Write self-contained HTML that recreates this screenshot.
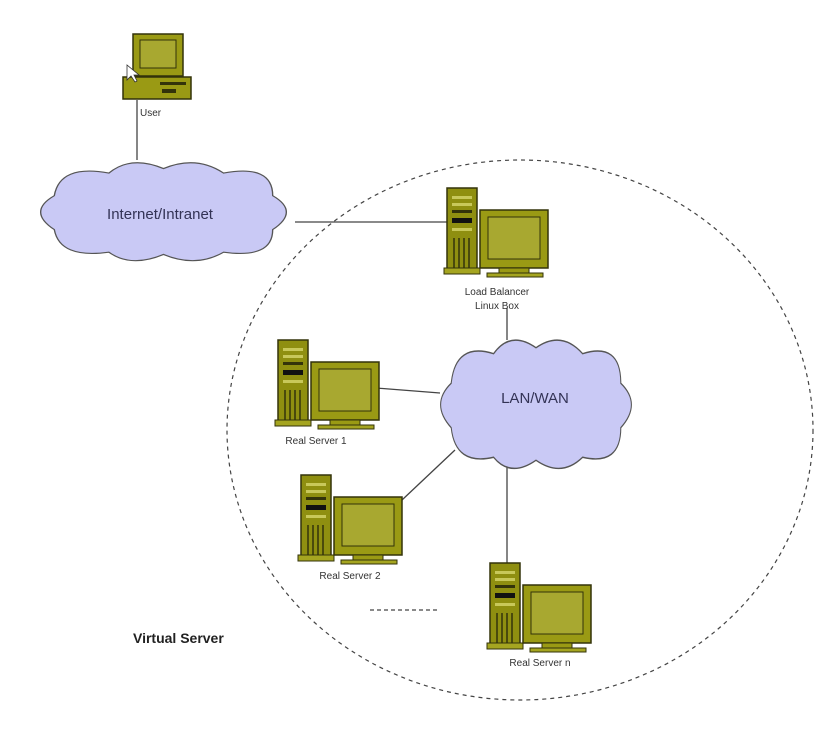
<!DOCTYPE html>
<html><head><style>html,body{margin:0;padding:0;background:#fff;}svg{display:block}</style></head>
<body>
<svg width="834" height="736" viewBox="0 0 834 736" xmlns="http://www.w3.org/2000/svg" font-family="Liberation Sans, sans-serif">
<defs>
<path id="cl" d="M10,18 Q12,4 30,8 Q38,0 50,6 Q62,0 72,8 Q90,4 90,18 Q100,25 90,33 Q90,46 72,43 Q62,50 50,44 Q38,50 30,43 Q12,46 10,33 Q0,25 10,18 Z"/>
<g id="srv">
  <rect x="0" y="0" width="30" height="85" fill="#8f8f10" stroke="#33330a" stroke-width="1.5"/>
  <rect x="5" y="8" width="20" height="3" fill="#c8c85a"/>
  <rect x="5" y="15" width="20" height="3" fill="#c8c85a"/>
  <rect x="5" y="22" width="20" height="3" fill="#33330a"/>
  <rect x="5" y="30" width="20" height="5" fill="#111"/>
  <rect x="5" y="40" width="20" height="3" fill="#c8c85a"/>
  <g stroke="#33330a" stroke-width="1.5"><line x1="7" y1="50" x2="7" y2="80"/><line x1="12" y1="50" x2="12" y2="80"/><line x1="17" y1="50" x2="17" y2="80"/><line x1="22" y1="50" x2="22" y2="80"/></g>
  <rect x="-3" y="80" width="36" height="6" fill="#a5a520" stroke="#33330a"/>
  <rect x="33" y="22" width="68" height="58" fill="#9a9a14" stroke="#33330a" stroke-width="1.5"/>
  <rect x="41" y="29" width="52" height="42" fill="#a8a830" stroke="#33330a"/>
  <rect x="52" y="80" width="30" height="5" fill="#9a9a14" stroke="#33330a"/>
  <rect x="40" y="85" width="56" height="4" fill="#a5a520" stroke="#33330a"/>
</g>
</defs>
<ellipse cx="520" cy="430" rx="293" ry="270" fill="none" stroke="#444" stroke-width="1.2" stroke-dasharray="4,4"/>
<g stroke="#444" stroke-width="1.3">
<line x1="137" y1="100" x2="137" y2="160"/>
<line x1="295" y1="222" x2="450" y2="222"/>
<line x1="507" y1="308" x2="507" y2="340"/>
<line x1="376" y1="388" x2="440" y2="393"/>
<line x1="402" y1="500" x2="455" y2="450"/>
<line x1="507" y1="465" x2="507" y2="565"/>
</g>
<line x1="370" y1="610" x2="438" y2="610" stroke="#444" stroke-width="1.3" stroke-dasharray="4,3"/>
<use href="#cl" transform="translate(27,155) scale(2.73,2.26)" fill="#c9c9f5" stroke="#555" stroke-width="0.5"/>
<use href="#cl" transform="translate(430,330) scale(2.12,2.96)" fill="#c9c9f5" stroke="#555" stroke-width="0.5"/>
<text x="160" y="219" font-size="15" fill="#333355" text-anchor="middle">Internet/Intranet</text>
<text x="535" y="403" font-size="15" fill="#333355" text-anchor="middle">LAN/WAN</text>
<!-- user PC -->
<rect x="133" y="34" width="50" height="42" fill="#9a9a14" stroke="#33330a" stroke-width="1.5"/>
<rect x="140" y="40" width="36" height="28" fill="#a8a830" stroke="#33330a"/>
<rect x="123" y="77" width="68" height="22" fill="#9a9a14" stroke="#33330a" stroke-width="1.5"/>
<rect x="160" y="82" width="26" height="3" fill="#33330a"/>
<rect x="162" y="89" width="14" height="4" fill="#33330a"/>
<path d="M127,65 L127,80 L131,76 L135,82 L137,81 L134,75 L139,75 Z" fill="#fff" stroke="#333" stroke-width="0.8"/>
<text x="140" y="116" font-size="10" fill="#333">User</text>
<use href="#srv" x="447" y="188"/>
<use href="#srv" x="278" y="340"/>
<use href="#srv" x="301" y="475"/>
<use href="#srv" x="490" y="563"/>
<g font-size="10" fill="#333" text-anchor="middle">
<text x="497" y="295">Load Balancer</text>
<text x="497" y="309">Linux Box</text>
<text x="316" y="444">Real Server 1</text>
<text x="350" y="579">Real Server 2</text>
<text x="540" y="666">Real Server n</text>
</g>
<text x="133" y="643" font-size="14" font-weight="bold" fill="#222">Virtual Server</text>
</svg>
</body></html>
